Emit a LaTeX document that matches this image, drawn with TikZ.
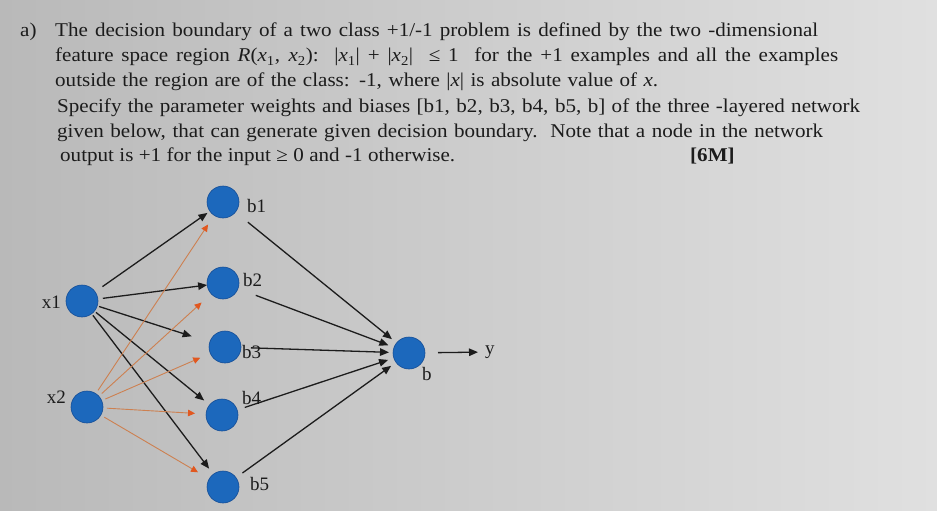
\documentclass[tikz,border=0pt]{standalone}
\usepackage{fontspec}
\setmainfont{Liberation Serif}
\newfontfamily\qfont[FakeStretch=1.08]{Liberation Serif}
\usetikzlibrary{arrows.meta}
\definecolor{nodeblue}{RGB}{28,104,188}
\definecolor{nodeedge}{RGB}{22,78,150}
\definecolor{inkc}{RGB}{28,28,28}
\definecolor{orl}{RGB}{205,128,80}
\definecolor{ort}{RGB}{225,88,32}
\definecolor{bgl}{RGB}{185,185,185}
\definecolor{bgr}{RGB}{224,224,224}
\begin{document}
\begin{tikzpicture}[x=1pt,y=-1pt,
  neuron/.style={circle,fill=nodeblue,draw=nodeedge,line width=0.6pt,minimum size=32pt,inner sep=0pt,outer sep=0pt},
  lbl/.style={font=\fontsize{19}{22}\selectfont,text=inkc,inner sep=0pt},
  txt/.style={font=\qfont\fontsize{19.5}{22}\selectfont,text=inkc,inner sep=0pt,anchor=base west},
  blk/.style={draw=inkc,line width=1.3pt,-{Triangle[length=9pt,width=7.5pt]}},
  org/.style={draw=orl,line width=0.9pt,-{Triangle[length=7pt,width=6.5pt,color=ort]}},
]
\shade[left color=bgl,right color=bgr] (0,0) rectangle (937,511);
\useasboundingbox (0,0) rectangle (937,511);

% question text
\node[txt] (qa) at (20,37) {a)};
\node[txt] (l1) at (55,37) {\makebox[763pt][s]{The decision boundary of a two class +1/-1 problem is defined by the two -dimensional}};
\node[txt] (l2) at (55,62) {\makebox[783pt][s]{feature space region \textit{R}(\textit{x}\textsubscript{1}, \textit{x}\textsubscript{2}):\ \ |\textit{x}\textsubscript{1}| + |\textit{x}\textsubscript{2}|\ \ ≤ 1\ \ for the +1 examples and all the examples}};
\node[txt] (l3) at (55,87) {\makebox[603pt][s]{outside the region are of the class: -1, where |\textit{x}| is absolute value of \textit{x}.}};
\node[txt] (l4) at (57,112) {\makebox[803pt][s]{Specify the parameter weights and biases [b1, b2, b3, b4, b5, b] of the three -layered network}};
\node[txt] (l5) at (57,137) {\makebox[766pt][s]{given below, that can generate given decision boundary.\ \ Note that a node in the network}};
\node[txt] (l6) at (60,161) {\makebox[395pt][s]{output is +1 for the input ≥ 0 and -1 otherwise.}};
\node[txt,font=\qfont\fontsize{19.5}{22}\selectfont\bfseries] (mk) at (690,161) {[6M]};

% neurons
\node[neuron] (x1) at (82,301) {};
\node[neuron] (x2) at (87,407) {};
\node[neuron] (h1) at (223,202) {};
\node[neuron] (h2) at (223,283) {};
\node[neuron] (h3) at (225,347) {};
\node[neuron] (h4) at (222,415) {};
\node[neuron] (h5) at (223,487) {};
\node[neuron] (o) at (409,353) {};

% labels
\node[lbl,anchor=east] (lx1) at (61,302) {x1};
\node[lbl,anchor=east] (lx2) at (66,397) {x2};
\node[lbl,anchor=west] (lb1) at (247,206) {b1};
\node[lbl,anchor=west] (lb2) at (243,280) {b2};
\node[lbl,anchor=west] (lb3) at (242,352) {b3};
\node[lbl,anchor=west] (lb4) at (242,398) {b4};
\node[lbl,anchor=west] (lb5) at (250,484) {b5};
\node[lbl,anchor=west] (lb) at (422,374) {b};
\node[lbl,anchor=west] (ly) at (485,352) {y};

% input -> hidden (x1, black)
\draw[blk,shorten <=9pt,shorten >=3pt] (x1) -- (h1);
\draw[blk,shorten <=5pt] (x1) -- (h2);
\draw[blk,shorten <=2pt,shorten >=19pt] (x1) -- (h3);
\draw[blk,shorten <=2pt,shorten >=7pt] (x1) -- (h4);
\draw[blk,shorten <=2pt,shorten >=7pt] (x1) -- (h5);

% input -> hidden (x2, orange)
\draw[org,shorten <=4pt,shorten >=11pt] (x2) -- (h1);
\draw[org,shorten <=4pt,shorten >=13pt] (x2) -- (h2);
\draw[org,shorten <=4pt,shorten >=11pt] (x2) -- (h3);
\draw[org,shorten <=4pt,shorten >=11pt] (x2) -- (h4);
\draw[org,shorten <=4pt,shorten >=13pt] (x2) -- (h5);

% hidden -> output
\draw[blk,shorten <=16pt,shorten >=6pt] (h1) -- (o);
\draw[blk,shorten <=19pt,shorten >=6pt] (h2) -- (o);
\draw[blk,shorten <=10pt,shorten >=4pt] (h3) -- (o);
\draw[blk,shorten <=8pt,shorten >=6pt] (h4) -- (o);
\draw[blk,shorten <=8pt,shorten >=6pt] (h5) -- (o);

% output
\draw[blk,shorten <=13pt,shorten >=7pt] (o) -- (ly);
\end{tikzpicture}
\end{document}
